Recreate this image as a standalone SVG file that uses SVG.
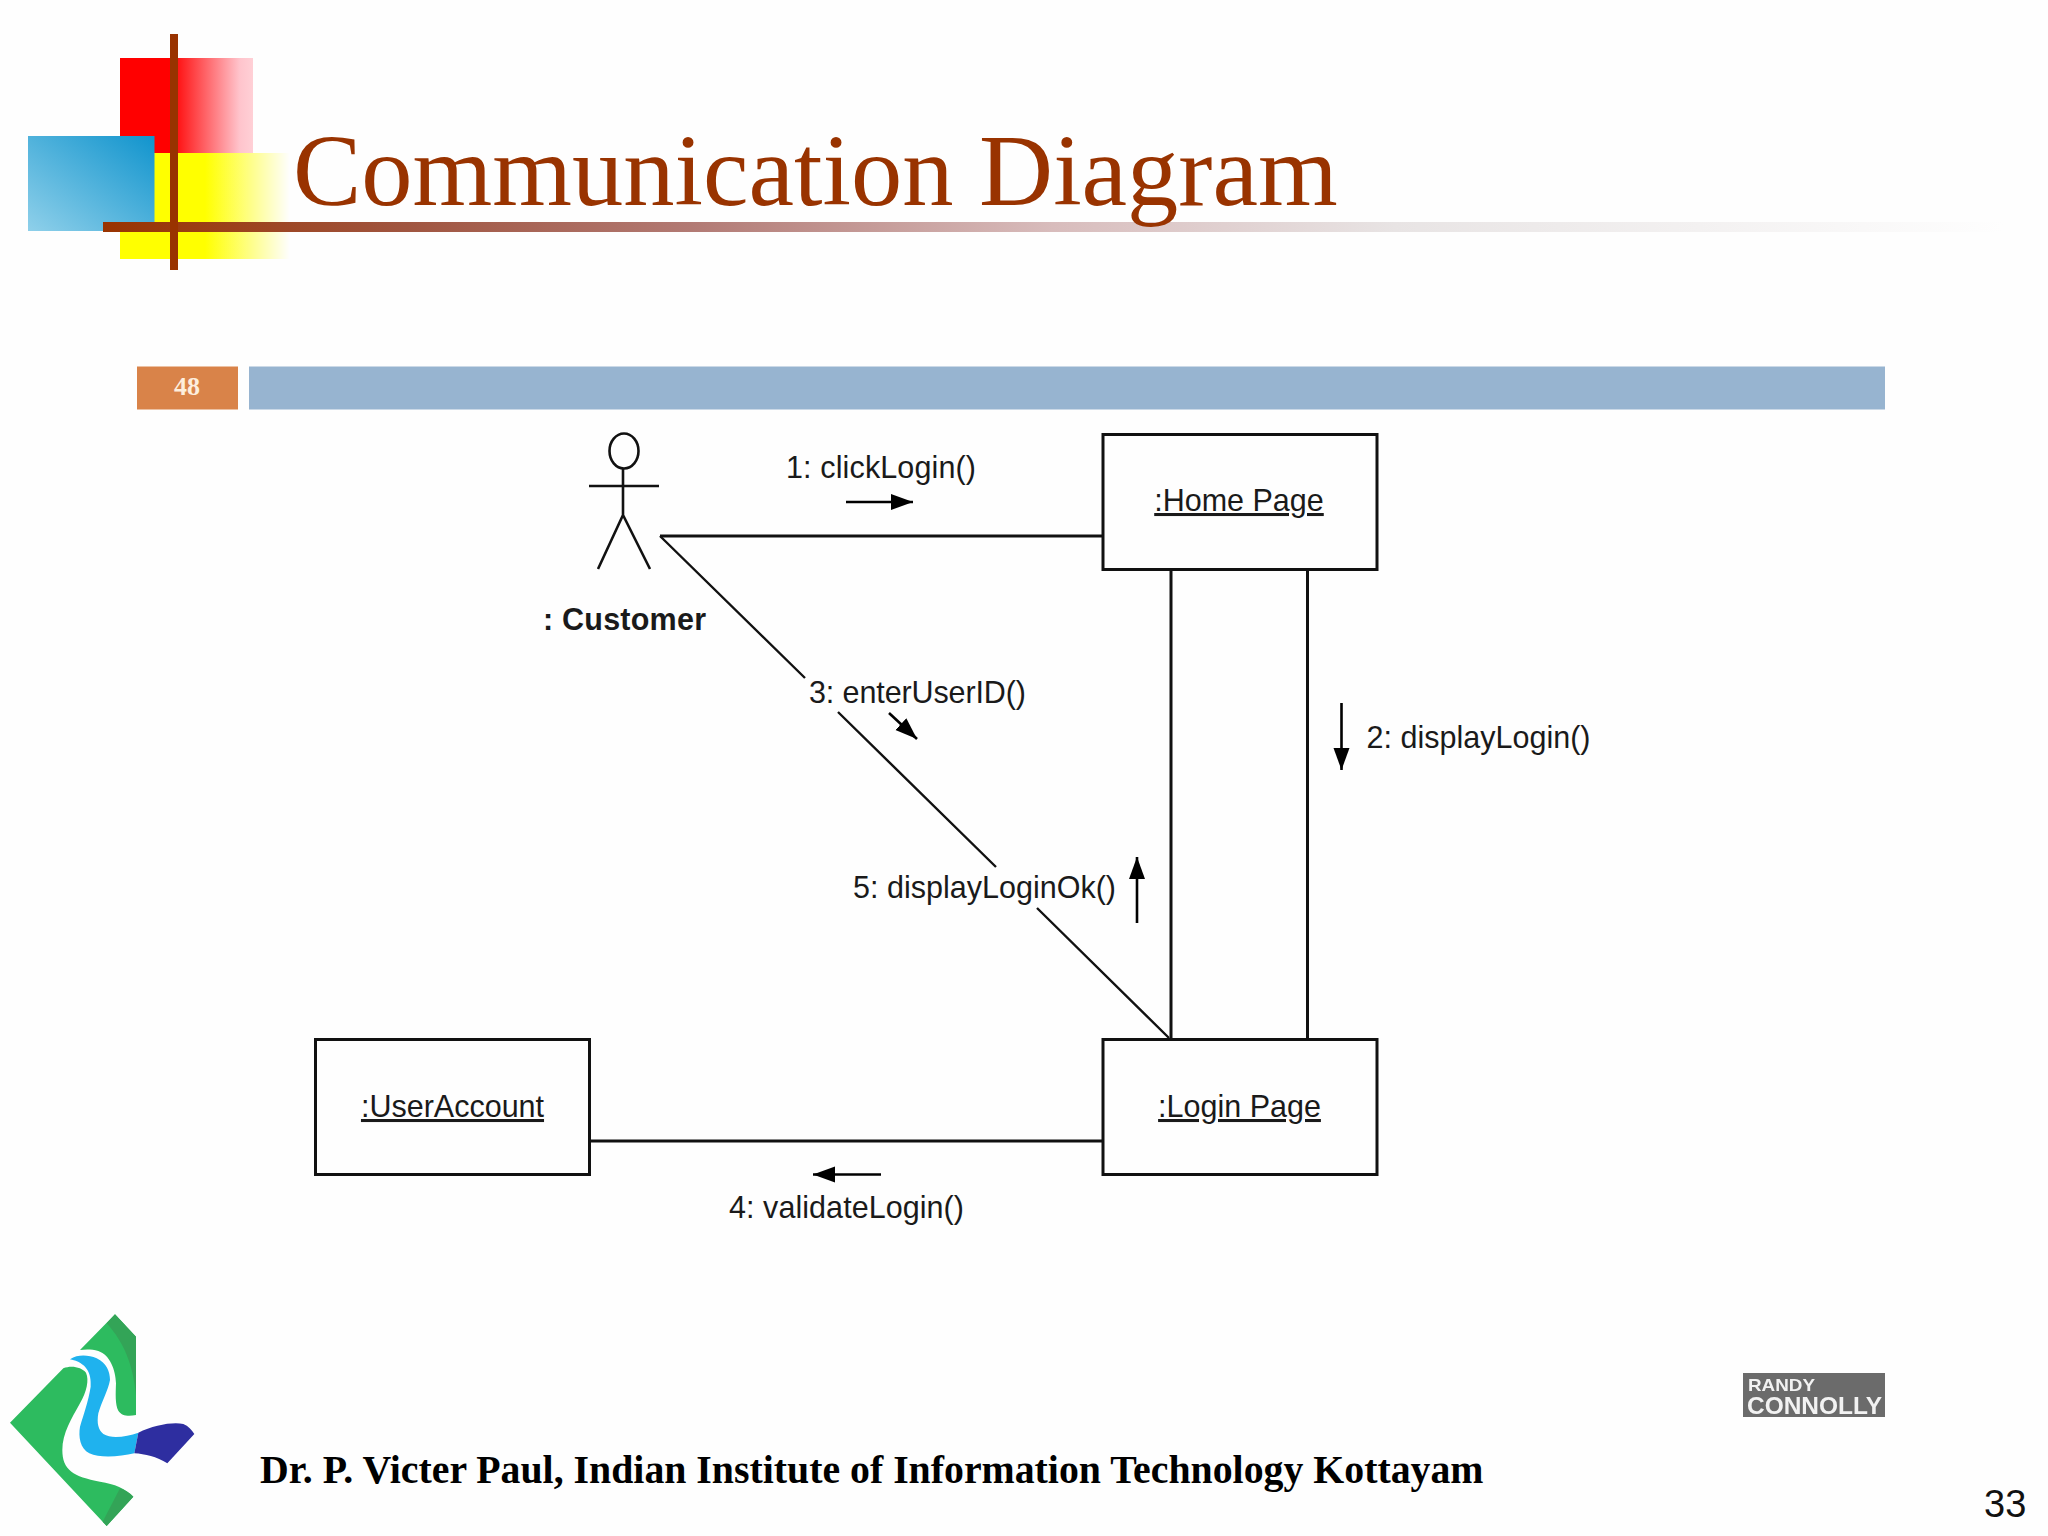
<svg xmlns="http://www.w3.org/2000/svg" width="2048" height="1536" viewBox="0 0 2048 1536">
<defs>
<linearGradient id="gRed" x1="0" x2="1" y1="0" y2="0"><stop offset="0.38" stop-color="#ff0000"/><stop offset="0.9" stop-color="#ffc4cc"/><stop offset="1" stop-color="#ffd0d6"/></linearGradient>
<linearGradient id="gYel" x1="0" x2="1" y1="0" y2="0"><stop offset="0.5" stop-color="#ffff00"/><stop offset="1" stop-color="#ffff00" stop-opacity="0"/></linearGradient>
<linearGradient id="gBlue" x1="0" x2="1" y1="1" y2="0"><stop offset="0" stop-color="#8fd0ea"/><stop offset="1" stop-color="#1194cd"/></linearGradient>
<linearGradient id="gBar" x1="0" x2="1" y1="0" y2="0"><stop offset="0" stop-color="#993300"/><stop offset="0.16" stop-color="#a05540"/><stop offset="0.31" stop-color="#b27a74"/><stop offset="0.5" stop-color="#d8bcbc"/><stop offset="0.68" stop-color="#e8e4e4"/><stop offset="1" stop-color="#fefefe"/></linearGradient>
<filter id="soft" x="-5%" y="-5%" width="110%" height="110%"><feGaussianBlur stdDeviation="0.6"/></filter>
<marker id="head" markerUnits="userSpaceOnUse" markerWidth="24" markerHeight="18" refX="22" refY="8" orient="auto"><path d="M0,0 L22,8 L0,16 Z" fill="#000"/></marker>
</defs>
<style>
.lbl{font-family:"Liberation Sans",Arial,sans-serif;font-size:30.5px;fill:#1a1a1a}
.box{fill:none;stroke:#111;stroke-width:3}
.obj{text-anchor:middle;text-decoration:underline}
.wire{fill:none;stroke:#111;stroke-width:3}
.diag{fill:none;stroke:#111;stroke-width:2.4}
.msg{fill:none;stroke:#000;stroke-width:2.6;marker-end:url(#head)}
</style>
<rect width="2048" height="1536" fill="#fefefe"/>
<g id="header-art">
<rect x="120" y="58" width="133" height="95" fill="url(#gRed)"/>
<rect x="120" y="153" width="170" height="106" fill="url(#gYel)"/>
<rect x="28" y="136" width="126.500" height="95" fill="url(#gBlue)"/>
<rect x="103" y="222" width="1900" height="10" fill="url(#gBar)"/>
<rect x="170" y="34" width="8" height="236" fill="#993300"/>
</g>
<text id="title" x="293" y="205" font-family="Liberation Serif, Times New Roman, serif" font-size="102.500" fill="#993300">Communication Diagram</text>
<g id="banner">
<rect x="137" y="366.500" width="101" height="43" fill="#d98349"/>
<text x="187" y="395" font-family="Liberation Serif, serif" font-weight="bold" font-size="26" fill="#fdeedd" text-anchor="middle">48</text>
<rect x="249" y="366.500" width="1636" height="43" fill="#97b4d0"/>
</g>
<g id="connectors">
<path class="wire" d="M660,536 H1103"/>
<path class="wire" d="M1171,569 V1039"/>
<path class="wire" d="M1307.500,569 V1039"/>
<path class="wire" d="M589,1141 H1103"/>
<path class="diag" d="M660,536 L805,678 M838,712 L996,867 M1037,908 L1169,1038"/>
<path class="msg" d="M846,502 H913"/>
<path class="msg" d="M1341.500,703 V770"/>
<path class="msg" d="M889,713 L917,739"/>
<path class="msg" d="M1137,923 V857"/>
<path class="msg" d="M881,1174.500 H813"/>
</g>
<g id="customer">
<ellipse cx="624" cy="451" rx="14.500" ry="17.500" fill="none" stroke="#111" stroke-width="2.600"/>
<path d="M589,486 H659 M623,468 V515 L598,569 M623,515 L650,569" fill="none" stroke="#111" stroke-width="2.600"/>
<text class="lbl" x="543" y="630" font-weight="bold" textLength="163">: Customer</text>
</g>
<g id="home-page">
<rect class="box" x="1103" y="434.500" width="274" height="135"/>
<text class="lbl obj" x="1239" y="511">:Home Page</text>
</g>
<g id="login-page">
<rect class="box" x="1103" y="1039.500" width="274" height="135"/>
<text class="lbl obj" x="1239.500" y="1117">:Login Page</text>
</g>
<g id="user-account">
<rect class="box" x="315.500" y="1039.500" width="274" height="135"/>
<text class="lbl obj" x="452.500" y="1117">:UserAccount</text>
</g>
<g id="labels">
<text class="lbl" x="786" y="478" textLength="190">1: clickLogin()</text>
<text class="lbl" x="1366.500" y="747.500" textLength="224">2: displayLogin()</text>
<text class="lbl" x="809" y="703" textLength="217">3: enterUserID()</text>
<text class="lbl" x="729" y="1218" textLength="235">4: validateLogin()</text>
<text class="lbl" x="853" y="898" textLength="263">5: displayLoginOk()</text>
</g>
<g id="logo" transform="translate(0,1280) scale(0.33333)">
<path fill="#2dbb5f" d="M240,210 L345,103 L408,170 L408,405 C385,410 365,408 355,392 C345,375 347,340 348,310 C347,270 330,225 295,213 C275,207 255,208 240,210Z"/>
<path fill="#33a457" d="M345,103 L408,170 L408,345 C400,260 375,190 320,130Z"/>
<path fill="#2dbb5f" d="M30,428 L190,265 C215,255 245,262 258,278 C268,300 260,335 240,370 C215,415 187,460 187,510 C187,570 220,590 300,605 C345,612 375,625 400,650 L320,738 Z"/>
<path fill="#33a457" d="M360,625 C375,630 390,640 400,650 L320,738 L308,725 Z"/>
<path fill="#1fb2ee" d="M210,238 C235,222 265,225 290,235 C320,250 330,275 330,300 C325,330 305,365 295,400 C290,430 295,450 310,462 C335,478 380,470 415,458 L403,520 C360,530 300,535 268,520 C240,505 235,470 240,440 C250,405 265,365 272,320 C275,280 260,248 210,238Z"/>
<path fill="#2e2ea0" d="M415,458 C460,435 520,425 550,432 C565,438 575,450 583,462 L502,550 C470,530 435,522 403,520 Z"/>
</g>
<g id="badge">
<rect x="1743" y="1373" width="142" height="44" fill="#6b6b6b"/>
<g filter="url(#soft)" font-family="Liberation Sans, sans-serif" font-weight="bold" fill="#f2f2f2">
<text x="1748" y="1391" font-size="17" textLength="67" lengthAdjust="spacingAndGlyphs">RANDY</text>
<text x="1747" y="1414" font-size="24" textLength="135" lengthAdjust="spacingAndGlyphs">CONNOLLY</text>
</g>
</g>
<text id="footer" x="260" y="1482.500" font-family="Liberation Serif, Times New Roman, serif" font-weight="bold" font-size="39.800" fill="#000">Dr. P. Victer Paul, Indian Institute of Information Technology Kottayam</text>
<text id="page-number" x="1984" y="1517" font-family="Liberation Sans, Arial, sans-serif" font-size="38" fill="#111">33</text>
</svg>
